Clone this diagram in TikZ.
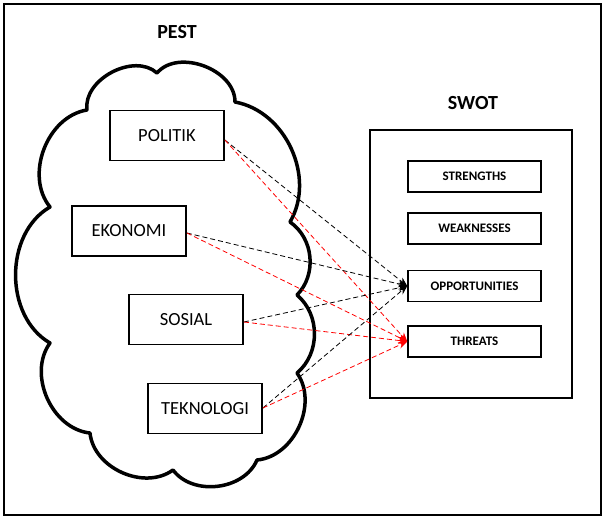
\documentclass[tikz,border=0pt]{standalone}
\usepackage{fontspec}
\setmainfont{Carlito}
\usetikzlibrary{arrows.meta}
\begin{document}
\begin{tikzpicture}[x=1pt,y=-1pt,
  pbox/.style={draw,line width=1.8pt,minimum width=114pt,minimum height=50pt,font=\fontsize{18.5}{20}\selectfont},
  sbox/.style={draw,line width=1.5pt,minimum width=133pt,minimum height=31pt,font=\bfseries\fontsize{13}{15}\selectfont},
  con/.style={dashed,dash pattern=on 5pt off 3pt,line width=0.8pt,-{Stealth[length=9pt,width=7pt]}},
  ttl/.style={font=\bfseries\fontsize{20}{22}\selectfont}]
\useasboundingbox (0,0) rectangle (606,519);
\draw[line width=2pt] (4,4) rectangle (601,515);
% cloud
\draw[line width=3.5pt,line join=round]
 (87,110) to[bend left=70] (157,73) to[bend left=70] (235,102)
 to[bend left=55] (290,222) to[bend left=50] (297,295)
 to[bend left=50] (297,373) to[bend left=60] (257,460)
 to[bend left=60] (173,470) to[bend left=60] (90,433)
 to[bend left=60] (50,343) to[bend left=60] (50,207)
 to[bend left=60] cycle;
\node[ttl] (pest) at (177,32) {PEST};
\node[ttl] (swot) at (473,103) {SWOT};
\node[draw,line width=1.8pt,minimum width=202pt,minimum height=268pt] (frame) at (471,264) {};
\node[pbox,fill=white] (pol) at (167,135.5) {POLITIK};
\node[pbox,fill=white] (eko) at (129,231) {EKONOMI};
\node[pbox,fill=white] (sos) at (186,319.5) {SOSIAL};
\node[pbox,fill=white] (tek) at (205,408.5) {TEKNOLOGI};
\node[sbox] (str) at (474.5,176.5) {STRENGTHS};
\node[sbox] (wea) at (474.5,228.5) {WEAKNESSES};
\node[sbox] (opp) at (474.5,286) {OPPORTUNITIES};
\node[sbox] (thr) at (474.5,341.5) {THREATS};
\foreach \s/\y in {pol/140,eko/233,sos/322,tek/408}{
  \coordinate (\s o) at (\s.east |- 0,\y);
  \draw[con,black] (\s o) -- (opp.west);
  \draw[con,red] (\s o) -- (thr.west);
}
\end{tikzpicture}
\end{document}
